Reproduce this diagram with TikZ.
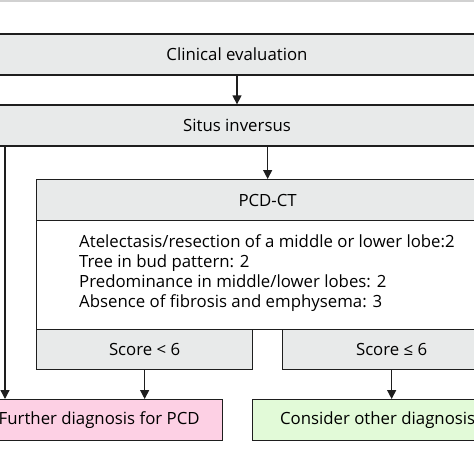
\documentclass[tikz,border=0pt]{standalone}
\usepackage{fontspec}
\setmainfont{Open Sans}
\usetikzlibrary{arrows.meta}
\definecolor{boxgray}{HTML}{E8EAEA}
\definecolor{pinkfill}{HTML}{FDD0E4}
\definecolor{greenfill}{HTML}{E2FAD8}
\definecolor{edge}{HTML}{1E1E1E}
\begin{document}
\begin{tikzpicture}[x=1pt,y=-1pt,
  box/.style={draw=edge, line width=1.3pt, inner sep=0pt, font=\fontsize{16.8}{20}\selectfont, text=black},
  arr/.style={draw=edge, line width=1.3pt, -{Triangle[length=9pt,width=9pt]}}]
\useasboundingbox (0,0) rectangle (474,474);
\clip (0,0) rectangle (474,474);
\fill[white] (0,0) rectangle (474,474);
\fill[black!18] (0,0) rectangle (474,2);
\node[box, fill=boxgray, minimum width=480, minimum height=41] (clin) at (237,54.5) {Clinical evaluation};
\node[box, fill=boxgray, minimum width=480, minimum height=41] (situs) at (237,125.5) {Situs inversus};
\node[box, fill=boxgray, minimum width=462, minimum height=41, anchor=north west] (pcd) at (36,179) {PCD-CT};
\node[box, fill=white, minimum width=462, minimum height=109, anchor=north west] (crit) at (36,220) {};
\node[font=\fontsize{16.8}{20}\selectfont, align=left, anchor=west, inner sep=0pt] (list) at (79,273.5) {Atelectasis/resection of a middle or lower lobe:2\\Tree in bud pattern: 2\\Predominance in middle/lower lobes: 2\\Absence of fibrosis and emphysema: 3};
\node[box, fill=boxgray, minimum width=216, minimum height=40, anchor=north west] (s1) at (36,329) {Score < 6};
\node[box, fill=boxgray, minimum width=218, minimum height=40, anchor=north west] (s2) at (282,329) {Score ≤ 6};
\node[box, fill=pinkfill, minimum width=247, minimum height=41, anchor=north west] (further) at (-25,399) {Further diagnosis for PCD};
\node[box, fill=greenfill, minimum width=250, minimum height=41, anchor=north west] (other) at (252,399) {Consider other diagnosis};
\coordinate (lt) at (5,146);
\draw[arr] (clin.south) -- (situs.north);
\draw[arr] (situs.south -| pcd.north) -- (pcd.north);
\draw[arr] (s1.south) -- (s1.south |- further.north);
\draw[arr] (s2.south) -- (s2.south |- other.north);
\draw[arr] (situs.south -| lt) -- (further.north -| lt);
\end{tikzpicture}
\end{document}
